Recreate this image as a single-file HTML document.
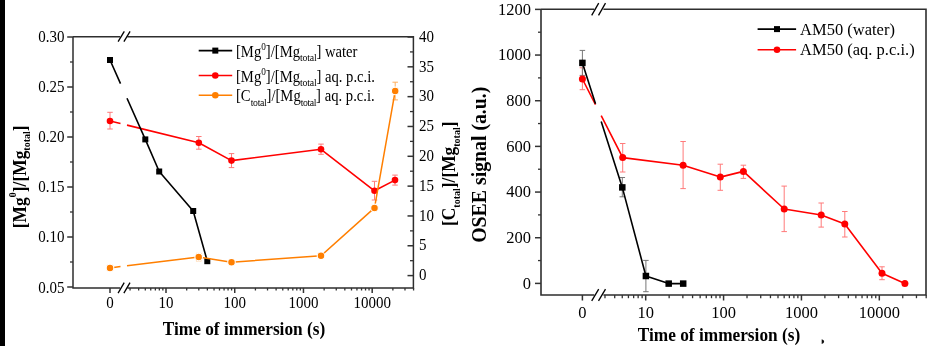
<!DOCTYPE html>
<html><head><meta charset="utf-8"><style>
html,body{margin:0;padding:0;background:#fff;width:928px;height:346px;overflow:hidden}
svg{display:block;will-change:transform}
text{font-family:"Liberation Serif", serif;fill:#000}
.tl{font-size:15px}
.tr{font-size:16.5px}
.xl{font-size:17.3px;font-weight:bold}
.yl{font-size:17.4px;font-weight:bold}
.yl2{font-size:19.8px;font-weight:bold}
.lg{font-size:15px}
.lg2{font-size:16.5px}
</style></head><body>
<svg width="928" height="346" viewBox="0 0 928 346">
<rect x="0" y="0" width="5" height="346" fill="#000"/>
<path d="M73 36.7H120.1M127.4 36.7H413.4V287.9H127.4M120.1 287.9H73V36.7" fill="none" stroke="#2e2e2e" stroke-width="1.5"/>
<line x1="118.1" y1="41.7" x2="124.3" y2="31.3" stroke="#000" stroke-width="1.3"/>
<line x1="123.9" y1="41.7" x2="130.1" y2="31.3" stroke="#000" stroke-width="1.3"/>
<line x1="118.1" y1="293.1" x2="124.19999999999999" y2="282.6" stroke="#000" stroke-width="1.3"/>
<line x1="123.9" y1="293.1" x2="130.0" y2="282.6" stroke="#000" stroke-width="1.3"/>
<line x1="67.2" y1="287.0" x2="73" y2="287.0" stroke="#333333" stroke-width="1.5"/>
<text x="64.5" y="292.60" transform="translate(0,292.60) scale(1,1.06) translate(0,-292.60)" text-anchor="end" class="tl">0.05</text>
<line x1="67.2" y1="237.0" x2="73" y2="237.0" stroke="#333333" stroke-width="1.5"/>
<text x="64.5" y="242.42" transform="translate(0,242.42) scale(1,1.06) translate(0,-242.42)" text-anchor="end" class="tl">0.10</text>
<line x1="67.2" y1="187.0" x2="73" y2="187.0" stroke="#333333" stroke-width="1.5"/>
<text x="64.5" y="192.24" transform="translate(0,192.24) scale(1,1.06) translate(0,-192.24)" text-anchor="end" class="tl">0.15</text>
<line x1="67.2" y1="136.99999999999997" x2="73" y2="136.99999999999997" stroke="#333333" stroke-width="1.5"/>
<text x="64.5" y="142.06" transform="translate(0,142.06) scale(1,1.06) translate(0,-142.06)" text-anchor="end" class="tl">0.20</text>
<line x1="67.2" y1="87.0" x2="73" y2="87.0" stroke="#333333" stroke-width="1.5"/>
<text x="64.5" y="91.88" transform="translate(0,91.88) scale(1,1.06) translate(0,-91.88)" text-anchor="end" class="tl">0.25</text>
<line x1="67.2" y1="37.0" x2="73" y2="37.0" stroke="#333333" stroke-width="1.5"/>
<text x="64.5" y="41.70" transform="translate(0,41.70) scale(1,1.06) translate(0,-41.70)" text-anchor="end" class="tl">0.30</text>
<line x1="70" y1="262.0" x2="73" y2="262.0" stroke="#333333" stroke-width="1.3"/>
<line x1="70" y1="212.0" x2="73" y2="212.0" stroke="#333333" stroke-width="1.3"/>
<line x1="70" y1="162.0" x2="73" y2="162.0" stroke="#333333" stroke-width="1.3"/>
<line x1="70" y1="111.99999999999994" x2="73" y2="111.99999999999994" stroke="#333333" stroke-width="1.3"/>
<line x1="70" y1="61.99999999999997" x2="73" y2="61.99999999999997" stroke="#333333" stroke-width="1.3"/>
<line x1="407.5" y1="275.6" x2="413.4" y2="275.6" stroke="#333333" stroke-width="1.5"/>
<text x="419" y="280.3" transform="translate(0,280.3) scale(1,1.06) translate(0,-280.3)" class="tl">0</text>
<line x1="407.5" y1="245.77500000000003" x2="413.4" y2="245.77500000000003" stroke="#333333" stroke-width="1.5"/>
<text x="419" y="250.47500000000002" transform="translate(0,250.47500000000002) scale(1,1.06) translate(0,-250.47500000000002)" class="tl">5</text>
<line x1="407.5" y1="215.95000000000002" x2="413.4" y2="215.95000000000002" stroke="#333333" stroke-width="1.5"/>
<text x="419" y="220.65" transform="translate(0,220.65) scale(1,1.06) translate(0,-220.65)" class="tl">10</text>
<line x1="407.5" y1="186.12500000000003" x2="413.4" y2="186.12500000000003" stroke="#333333" stroke-width="1.5"/>
<text x="419" y="190.82500000000002" transform="translate(0,190.82500000000002) scale(1,1.06) translate(0,-190.82500000000002)" class="tl">15</text>
<line x1="407.5" y1="156.3" x2="413.4" y2="156.3" stroke="#333333" stroke-width="1.5"/>
<text x="419" y="161.0" transform="translate(0,161.0) scale(1,1.06) translate(0,-161.0)" class="tl">20</text>
<line x1="407.5" y1="126.47500000000002" x2="413.4" y2="126.47500000000002" stroke="#333333" stroke-width="1.5"/>
<text x="419" y="131.175" transform="translate(0,131.175) scale(1,1.06) translate(0,-131.175)" class="tl">25</text>
<line x1="407.5" y1="96.65000000000003" x2="413.4" y2="96.65000000000003" stroke="#333333" stroke-width="1.5"/>
<text x="419" y="101.35000000000004" transform="translate(0,101.35000000000004) scale(1,1.06) translate(0,-101.35000000000004)" class="tl">30</text>
<line x1="407.5" y1="66.82500000000002" x2="413.4" y2="66.82500000000002" stroke="#333333" stroke-width="1.5"/>
<text x="419" y="71.52500000000002" transform="translate(0,71.52500000000002) scale(1,1.06) translate(0,-71.52500000000002)" class="tl">35</text>
<line x1="407.5" y1="37.00000000000003" x2="413.4" y2="37.00000000000003" stroke="#333333" stroke-width="1.5"/>
<text x="419" y="41.70000000000003" transform="translate(0,41.70000000000003) scale(1,1.06) translate(0,-41.70000000000003)" class="tl">40</text>
<line x1="410" y1="260.6875" x2="413.4" y2="260.6875" stroke="#333333" stroke-width="1.3"/>
<line x1="410" y1="230.8625" x2="413.4" y2="230.8625" stroke="#333333" stroke-width="1.3"/>
<line x1="410" y1="201.03750000000002" x2="413.4" y2="201.03750000000002" stroke="#333333" stroke-width="1.3"/>
<line x1="410" y1="171.21250000000003" x2="413.4" y2="171.21250000000003" stroke="#333333" stroke-width="1.3"/>
<line x1="410" y1="141.38750000000002" x2="413.4" y2="141.38750000000002" stroke="#333333" stroke-width="1.3"/>
<line x1="410" y1="111.56250000000003" x2="413.4" y2="111.56250000000003" stroke="#333333" stroke-width="1.3"/>
<line x1="410" y1="81.73750000000004" x2="413.4" y2="81.73750000000004" stroke="#333333" stroke-width="1.3"/>
<line x1="410" y1="51.91250000000002" x2="413.4" y2="51.91250000000002" stroke="#333333" stroke-width="1.3"/>
<line x1="110" y1="287.9" x2="110" y2="293" stroke="#333333" stroke-width="1.5"/>
<text x="110" y="308" transform="translate(0,308) scale(1,1.06) translate(0,-308)" text-anchor="middle" class="tl">0</text>
<line x1="166.0" y1="287.9" x2="166.0" y2="293" stroke="#333333" stroke-width="1.5"/>
<text x="166.0" y="308" transform="translate(0,308) scale(1,1.06) translate(0,-308)" text-anchor="middle" class="tl">10</text>
<line x1="234.73000000000002" y1="287.9" x2="234.73000000000002" y2="293" stroke="#333333" stroke-width="1.5"/>
<text x="234.73000000000002" y="308" transform="translate(0,308) scale(1,1.06) translate(0,-308)" text-anchor="middle" class="tl">100</text>
<line x1="303.46000000000004" y1="287.9" x2="303.46000000000004" y2="293" stroke="#333333" stroke-width="1.5"/>
<text x="303.46000000000004" y="308" transform="translate(0,308) scale(1,1.06) translate(0,-308)" text-anchor="middle" class="tl">1000</text>
<line x1="372.19" y1="287.9" x2="372.19" y2="293" stroke="#333333" stroke-width="1.5"/>
<text x="372.19" y="308" transform="translate(0,308) scale(1,1.06) translate(0,-308)" text-anchor="middle" class="tl">10000</text>
<line x1="130.06254383688238" y1="287.9" x2="130.06254383688238" y2="290.5" stroke="#333333" stroke-width="1.3"/>
<line x1="138.64958320397085" y1="287.9" x2="138.64958320397085" y2="290.5" stroke="#333333" stroke-width="1.3"/>
<line x1="145.31020839801457" y1="287.9" x2="145.31020839801457" y2="290.5" stroke="#333333" stroke-width="1.3"/>
<line x1="150.75233543886782" y1="287.9" x2="150.75233543886782" y2="290.5" stroke="#333333" stroke-width="1.3"/>
<line x1="155.35358829017986" y1="287.9" x2="155.35358829017986" y2="290.5" stroke="#333333" stroke-width="1.3"/>
<line x1="159.33937480595628" y1="287.9" x2="159.33937480595628" y2="290.5" stroke="#333333" stroke-width="1.3"/>
<line x1="162.85508767376479" y1="287.9" x2="162.85508767376479" y2="290.5" stroke="#333333" stroke-width="1.3"/>
<line x1="186.68979160198543" y1="287.9" x2="186.68979160198543" y2="290.5" stroke="#333333" stroke-width="1.3"/>
<line x1="198.7925438368824" y1="287.9" x2="198.7925438368824" y2="290.5" stroke="#333333" stroke-width="1.3"/>
<line x1="207.37958320397087" y1="287.9" x2="207.37958320397087" y2="290.5" stroke="#333333" stroke-width="1.3"/>
<line x1="214.04020839801458" y1="287.9" x2="214.04020839801458" y2="290.5" stroke="#333333" stroke-width="1.3"/>
<line x1="219.48233543886784" y1="287.9" x2="219.48233543886784" y2="290.5" stroke="#333333" stroke-width="1.3"/>
<line x1="224.08358829017988" y1="287.9" x2="224.08358829017988" y2="290.5" stroke="#333333" stroke-width="1.3"/>
<line x1="228.06937480595627" y1="287.9" x2="228.06937480595627" y2="290.5" stroke="#333333" stroke-width="1.3"/>
<line x1="231.5850876737648" y1="287.9" x2="231.5850876737648" y2="290.5" stroke="#333333" stroke-width="1.3"/>
<line x1="255.41979160198542" y1="287.9" x2="255.41979160198542" y2="290.5" stroke="#333333" stroke-width="1.3"/>
<line x1="267.5225438368824" y1="287.9" x2="267.5225438368824" y2="290.5" stroke="#333333" stroke-width="1.3"/>
<line x1="276.1095832039709" y1="287.9" x2="276.1095832039709" y2="290.5" stroke="#333333" stroke-width="1.3"/>
<line x1="282.7702083980146" y1="287.9" x2="282.7702083980146" y2="290.5" stroke="#333333" stroke-width="1.3"/>
<line x1="288.21233543886785" y1="287.9" x2="288.21233543886785" y2="290.5" stroke="#333333" stroke-width="1.3"/>
<line x1="292.8135882901799" y1="287.9" x2="292.8135882901799" y2="290.5" stroke="#333333" stroke-width="1.3"/>
<line x1="296.7993748059563" y1="287.9" x2="296.7993748059563" y2="290.5" stroke="#333333" stroke-width="1.3"/>
<line x1="300.31508767376476" y1="287.9" x2="300.31508767376476" y2="290.5" stroke="#333333" stroke-width="1.3"/>
<line x1="324.14979160198544" y1="287.9" x2="324.14979160198544" y2="290.5" stroke="#333333" stroke-width="1.3"/>
<line x1="336.2525438368824" y1="287.9" x2="336.2525438368824" y2="290.5" stroke="#333333" stroke-width="1.3"/>
<line x1="344.83958320397085" y1="287.9" x2="344.83958320397085" y2="290.5" stroke="#333333" stroke-width="1.3"/>
<line x1="351.5002083980146" y1="287.9" x2="351.5002083980146" y2="290.5" stroke="#333333" stroke-width="1.3"/>
<line x1="356.9423354388678" y1="287.9" x2="356.9423354388678" y2="290.5" stroke="#333333" stroke-width="1.3"/>
<line x1="361.54358829017985" y1="287.9" x2="361.54358829017985" y2="290.5" stroke="#333333" stroke-width="1.3"/>
<line x1="365.5293748059563" y1="287.9" x2="365.5293748059563" y2="290.5" stroke="#333333" stroke-width="1.3"/>
<line x1="369.0450876737648" y1="287.9" x2="369.0450876737648" y2="290.5" stroke="#333333" stroke-width="1.3"/>
<line x1="392.8797916019854" y1="287.9" x2="392.8797916019854" y2="290.5" stroke="#333333" stroke-width="1.3"/>
<line x1="404.9825438368824" y1="287.9" x2="404.9825438368824" y2="290.5" stroke="#333333" stroke-width="1.3"/>
<line x1="413.56958320397086" y1="287.9" x2="413.56958320397086" y2="290.5" stroke="#333333" stroke-width="1.3"/>
<text x="162.8" y="335.2" transform="translate(0,335.2) scale(1,1.06) translate(0,-335.2)" class="xl">Time of immersion (s)</text>
<text transform="translate(26.0,228.3) rotate(-90) scale(1,1.06)" class="yl">[Mg<tspan dy="-9" font-size="10.5">0</tspan><tspan dy="9">]/[Mg</tspan><tspan dy="4" font-size="10">total</tspan><tspan dy="-4">]</tspan></text>
<text transform="translate(455.3,226) rotate(-90) scale(1,1.06)" class="yl">[C<tspan dy="4" font-size="10">total</tspan><tspan dy="-4">]/[Mg</tspan><tspan dy="4" font-size="10">total</tspan><tspan dy="-4">]</tspan></text>
<line x1="198.7" y1="50.6" x2="232.2" y2="50.6" stroke="#000" stroke-width="1.6"/><rect x="212.3" y="47.6" width="6" height="6" fill="#000"/>
<line x1="198.7" y1="75.5" x2="232.2" y2="75.5" stroke="#ff0000" stroke-width="1.6"/><circle cx="215.3" cy="75.5" r="3.3" fill="#ff0000"/>
<line x1="198.7" y1="95.3" x2="232.2" y2="95.3" stroke="#ff7f00" stroke-width="1.6"/><circle cx="215.3" cy="95.3" r="3.3" fill="#ff7f00"/>
<g transform="translate(236,0) scale(0.977,1) translate(-236,0)">
<text x="236" y="56.8" transform="translate(0,56.8) scale(1,1.06) translate(0,-56.8)" class="lg">[Mg<tspan dy="-6" font-size="9.5">0</tspan><tspan dy="6">]/[Mg</tspan><tspan dy="4" font-size="10" letter-spacing="-0.2">total</tspan><tspan dy="-4">] water</tspan></text>
<text x="236" y="81.6" transform="translate(0,81.6) scale(1,1.06) translate(0,-81.6)" class="lg">[Mg<tspan dy="-6" font-size="9.5">0</tspan><tspan dy="6">]/[Mg</tspan><tspan dy="4" font-size="10" letter-spacing="-0.2">total</tspan><tspan dy="-4">] aq. p.c.i.</tspan></text>
<text x="236" y="101.5" transform="translate(0,101.5) scale(1,1.06) translate(0,-101.5)" class="lg">[C<tspan dy="4" font-size="10" letter-spacing="-0.3">total</tspan><tspan dy="-4">]/[Mg</tspan><tspan dy="4" font-size="10" letter-spacing="-0.4">total</tspan><tspan dy="-4">] aq. p.c.i.</tspan></text>
</g>
<path d="M110 112.3V129M107.25 112.3H112.75M107.25 129H112.75" stroke="#ff7a7a" stroke-width="1" fill="none"/>
<path d="M198.8 136.5V149.2M196.05 136.5H201.55M196.05 149.2H201.55" stroke="#ff7a7a" stroke-width="1" fill="none"/>
<path d="M231.5 153.6V167.6M228.75 153.6H234.25M228.75 167.6H234.25" stroke="#ff7a7a" stroke-width="1" fill="none"/>
<path d="M321 144.1V154.3M318.25 144.1H323.75M318.25 154.3H323.75" stroke="#ff7a7a" stroke-width="1" fill="none"/>
<path d="M374.5 181.3V200M371.75 181.3H377.25M371.75 200H377.25" stroke="#ff7a7a" stroke-width="1" fill="none"/>
<path d="M395 175.1V185.1M392.25 175.1H397.75M392.25 185.1H397.75" stroke="#ff7a7a" stroke-width="1" fill="none"/>
<path d="M110 121L120.5 123.57M127 125.15L198.8 142.7L231.5 160.6L321 149.3L374.5 190.8L395 180.1" fill="none" stroke="#ff0000" stroke-width="1.6" stroke-linejoin="round"/>
<circle cx="110" cy="121" r="3.3" fill="#ff0000"/>
<circle cx="198.8" cy="142.7" r="3.3" fill="#ff0000"/>
<circle cx="231.5" cy="160.6" r="3.3" fill="#ff0000"/>
<circle cx="321" cy="149.3" r="3.3" fill="#ff0000"/>
<circle cx="374.5" cy="190.8" r="3.3" fill="#ff0000"/>
<circle cx="395" cy="180.1" r="3.3" fill="#ff0000"/>
<path d="M110 60L120.5 83.62M127 98.24L145.3 139.4L159.2 171.5L193.2 211L207.3 261.2" fill="none" stroke="#000" stroke-width="1.6" stroke-linejoin="round"/>
<rect x="107.0" y="57.0" width="6" height="6" fill="#000"/>
<rect x="142.3" y="136.4" width="6" height="6" fill="#000"/>
<rect x="156.2" y="168.5" width="6" height="6" fill="#000"/>
<rect x="190.2" y="208.0" width="6" height="6" fill="#000"/>
<rect x="204.3" y="258.2" width="6" height="6" fill="#000"/>
<path d="M395.2 82.2V99.9M392.45 82.2H397.95M392.45 99.9H397.95" stroke="#ffae5c" stroke-width="1" fill="none"/>
<path d="M198.7 253.4V260.8M195.95 253.4H201.45M195.95 260.8H201.45" stroke="#ffae5c" stroke-width="1" fill="none"/>
<path d="M110 267.9L120.5 266.60M127 265.79L198.7 256.9L231.5 262.2L321 255.8L374.5 207.9L395.2 90.9" fill="none" stroke="#ff7f00" stroke-width="1.5" stroke-linejoin="round"/>
<circle cx="110" cy="267.9" r="3.8" fill="#ff7f00" stroke="#fff" stroke-width="1.1"/>
<circle cx="198.7" cy="256.9" r="3.8" fill="#ff7f00" stroke="#fff" stroke-width="1.1"/>
<circle cx="231.5" cy="262.2" r="3.8" fill="#ff7f00" stroke="#fff" stroke-width="1.1"/>
<circle cx="321" cy="255.8" r="3.8" fill="#ff7f00" stroke="#fff" stroke-width="1.1"/>
<circle cx="374.5" cy="207.9" r="3.8" fill="#ff7f00" stroke="#fff" stroke-width="1.1"/>
<circle cx="395.2" cy="90.9" r="3.8" fill="#ff7f00" stroke="#fff" stroke-width="1.1"/>
<path d="M541 9.2H594.3M603.4 9.2H926V295H603.4M594.3 295H541V9.2" fill="none" stroke="#2e2e2e" stroke-width="1.6"/>
<line x1="591.7" y1="15.3" x2="598.7" y2="3.2" stroke="#000" stroke-width="1.3"/>
<line x1="591.7" y1="300.9" x2="598.7" y2="289.1" stroke="#000" stroke-width="1.3"/>
<line x1="598.5" y1="15.3" x2="605.5" y2="3.2" stroke="#000" stroke-width="1.3"/>
<line x1="598.5" y1="300.9" x2="605.5" y2="289.1" stroke="#000" stroke-width="1.3"/>
<line x1="535" y1="283.4" x2="541" y2="283.4" stroke="#333333" stroke-width="1.5"/>
<text x="531" y="288.79999999999995" transform="translate(0,288.79999999999995) scale(1,1.06) translate(0,-288.79999999999995)" text-anchor="end" class="tr">0</text>
<line x1="535" y1="237.72999999999996" x2="541" y2="237.72999999999996" stroke="#333333" stroke-width="1.5"/>
<text x="531" y="243.12999999999997" transform="translate(0,243.12999999999997) scale(1,1.06) translate(0,-243.12999999999997)" text-anchor="end" class="tr">200</text>
<line x1="535" y1="192.05999999999997" x2="541" y2="192.05999999999997" stroke="#333333" stroke-width="1.5"/>
<text x="531" y="197.45999999999998" transform="translate(0,197.45999999999998) scale(1,1.06) translate(0,-197.45999999999998)" text-anchor="end" class="tr">400</text>
<line x1="535" y1="146.39" x2="541" y2="146.39" stroke="#333333" stroke-width="1.5"/>
<text x="531" y="151.79" transform="translate(0,151.79) scale(1,1.06) translate(0,-151.79)" text-anchor="end" class="tr">600</text>
<line x1="535" y1="100.71999999999997" x2="541" y2="100.71999999999997" stroke="#333333" stroke-width="1.5"/>
<text x="531" y="106.11999999999998" transform="translate(0,106.11999999999998) scale(1,1.06) translate(0,-106.11999999999998)" text-anchor="end" class="tr">800</text>
<line x1="535" y1="55.04999999999998" x2="541" y2="55.04999999999998" stroke="#333333" stroke-width="1.5"/>
<text x="531" y="60.44999999999998" transform="translate(0,60.44999999999998) scale(1,1.06) translate(0,-60.44999999999998)" text-anchor="end" class="tr">1000</text>
<line x1="535" y1="9.379999999999995" x2="541" y2="9.379999999999995" stroke="#333333" stroke-width="1.5"/>
<text x="531" y="14.779999999999996" transform="translate(0,14.779999999999996) scale(1,1.06) translate(0,-14.779999999999996)" text-anchor="end" class="tr">1200</text>
<line x1="538" y1="260.565" x2="541" y2="260.565" stroke="#333333" stroke-width="1.3"/>
<line x1="538" y1="214.89499999999998" x2="541" y2="214.89499999999998" stroke="#333333" stroke-width="1.3"/>
<line x1="538" y1="169.22499999999997" x2="541" y2="169.22499999999997" stroke="#333333" stroke-width="1.3"/>
<line x1="538" y1="123.55499999999998" x2="541" y2="123.55499999999998" stroke="#333333" stroke-width="1.3"/>
<line x1="538" y1="77.88499999999999" x2="541" y2="77.88499999999999" stroke="#333333" stroke-width="1.3"/>
<line x1="538" y1="32.214999999999975" x2="541" y2="32.214999999999975" stroke="#333333" stroke-width="1.3"/>
<line x1="582.4" y1="295" x2="582.4" y2="300.5" stroke="#333333" stroke-width="1.5"/>
<text x="582.4" y="318" transform="translate(0,318) scale(1,1.06) translate(0,-318)" text-anchor="middle" class="tr">0</text>
<line x1="645.7" y1="295" x2="645.7" y2="300.5" stroke="#333333" stroke-width="1.5"/>
<text x="645.7" y="318" transform="translate(0,318) scale(1,1.06) translate(0,-318)" text-anchor="middle" class="tr">10</text>
<line x1="723.57" y1="295" x2="723.57" y2="300.5" stroke="#333333" stroke-width="1.5"/>
<text x="723.57" y="318" transform="translate(0,318) scale(1,1.06) translate(0,-318)" text-anchor="middle" class="tr">100</text>
<line x1="801.44" y1="295" x2="801.44" y2="300.5" stroke="#333333" stroke-width="1.5"/>
<text x="801.44" y="318" transform="translate(0,318) scale(1,1.06) translate(0,-318)" text-anchor="middle" class="tr">1000</text>
<line x1="879.3100000000001" y1="295" x2="879.3100000000001" y2="300.5" stroke="#333333" stroke-width="1.5"/>
<text x="879.3100000000001" y="318" transform="translate(0,318) scale(1,1.06) translate(0,-318)" text-anchor="middle" class="tr">10000</text>
<line x1="604.9834321050201" y1="295" x2="604.9834321050201" y2="298.2" stroke="#333333" stroke-width="1.3"/>
<line x1="614.7124115247085" y1="295" x2="614.7124115247085" y2="298.2" stroke="#333333" stroke-width="1.3"/>
<line x1="622.2587942376458" y1="295" x2="622.2587942376458" y2="298.2" stroke="#333333" stroke-width="1.3"/>
<line x1="628.4246378673744" y1="295" x2="628.4246378673744" y2="298.2" stroke="#333333" stroke-width="1.3"/>
<line x1="633.6377843759102" y1="295" x2="633.6377843759102" y2="298.2" stroke="#333333" stroke-width="1.3"/>
<line x1="638.1536172870627" y1="295" x2="638.1536172870627" y2="298.2" stroke="#333333" stroke-width="1.3"/>
<line x1="642.1368642100402" y1="295" x2="642.1368642100402" y2="298.2" stroke="#333333" stroke-width="1.3"/>
<line x1="669.1412057623543" y1="295" x2="669.1412057623543" y2="298.2" stroke="#333333" stroke-width="1.3"/>
<line x1="682.8534321050201" y1="295" x2="682.8534321050201" y2="298.2" stroke="#333333" stroke-width="1.3"/>
<line x1="692.5824115247085" y1="295" x2="692.5824115247085" y2="298.2" stroke="#333333" stroke-width="1.3"/>
<line x1="700.1287942376458" y1="295" x2="700.1287942376458" y2="298.2" stroke="#333333" stroke-width="1.3"/>
<line x1="706.2946378673744" y1="295" x2="706.2946378673744" y2="298.2" stroke="#333333" stroke-width="1.3"/>
<line x1="711.5077843759102" y1="295" x2="711.5077843759102" y2="298.2" stroke="#333333" stroke-width="1.3"/>
<line x1="716.0236172870627" y1="295" x2="716.0236172870627" y2="298.2" stroke="#333333" stroke-width="1.3"/>
<line x1="720.0068642100402" y1="295" x2="720.0068642100402" y2="298.2" stroke="#333333" stroke-width="1.3"/>
<line x1="747.0112057623543" y1="295" x2="747.0112057623543" y2="298.2" stroke="#333333" stroke-width="1.3"/>
<line x1="760.7234321050202" y1="295" x2="760.7234321050202" y2="298.2" stroke="#333333" stroke-width="1.3"/>
<line x1="770.4524115247085" y1="295" x2="770.4524115247085" y2="298.2" stroke="#333333" stroke-width="1.3"/>
<line x1="777.9987942376458" y1="295" x2="777.9987942376458" y2="298.2" stroke="#333333" stroke-width="1.3"/>
<line x1="784.1646378673744" y1="295" x2="784.1646378673744" y2="298.2" stroke="#333333" stroke-width="1.3"/>
<line x1="789.3777843759102" y1="295" x2="789.3777843759102" y2="298.2" stroke="#333333" stroke-width="1.3"/>
<line x1="793.8936172870627" y1="295" x2="793.8936172870627" y2="298.2" stroke="#333333" stroke-width="1.3"/>
<line x1="797.8768642100403" y1="295" x2="797.8768642100403" y2="298.2" stroke="#333333" stroke-width="1.3"/>
<line x1="824.8812057623543" y1="295" x2="824.8812057623543" y2="298.2" stroke="#333333" stroke-width="1.3"/>
<line x1="838.5934321050202" y1="295" x2="838.5934321050202" y2="298.2" stroke="#333333" stroke-width="1.3"/>
<line x1="848.3224115247085" y1="295" x2="848.3224115247085" y2="298.2" stroke="#333333" stroke-width="1.3"/>
<line x1="855.8687942376458" y1="295" x2="855.8687942376458" y2="298.2" stroke="#333333" stroke-width="1.3"/>
<line x1="862.0346378673744" y1="295" x2="862.0346378673744" y2="298.2" stroke="#333333" stroke-width="1.3"/>
<line x1="867.2477843759102" y1="295" x2="867.2477843759102" y2="298.2" stroke="#333333" stroke-width="1.3"/>
<line x1="871.7636172870627" y1="295" x2="871.7636172870627" y2="298.2" stroke="#333333" stroke-width="1.3"/>
<line x1="875.7468642100403" y1="295" x2="875.7468642100403" y2="298.2" stroke="#333333" stroke-width="1.3"/>
<line x1="902.7512057623543" y1="295" x2="902.7512057623543" y2="298.2" stroke="#333333" stroke-width="1.3"/>
<line x1="916.4634321050202" y1="295" x2="916.4634321050202" y2="298.2" stroke="#333333" stroke-width="1.3"/>
<line x1="926.1924115247085" y1="295" x2="926.1924115247085" y2="298.2" stroke="#333333" stroke-width="1.3"/>
<text x="637.8" y="341.5" transform="translate(0,341.5) scale(1,1.06) translate(0,-341.5)" class="xl">Time of immersion (s)</text>
<text transform="translate(485.6,242.8) rotate(-90) scale(1,1.06)" class="yl2">OSEE signal (a.u.)</text>
<path d="M821.7 339.3C824.9 340.1 824.9 343.1 821.7 343.9Z" fill="#111"/>
<line x1="757.6" y1="29.1" x2="796.1" y2="29.1" stroke="#000" stroke-width="1.6"/><rect x="774.0" y="26.1" width="6" height="6" fill="#000"/>
<line x1="757.6" y1="49.7" x2="796.1" y2="49.7" stroke="#ff0000" stroke-width="1.6"/><circle cx="777" cy="49.7" r="3.3" fill="#ff0000"/>
<text x="800.1" y="34.8" transform="translate(0,34.8) scale(1,1.06) translate(0,-34.8)" class="lg2">AM50 (water)</text>
<text x="800.1" y="55.4" transform="translate(0,55.4) scale(1,1.06) translate(0,-55.4)" class="lg2">AM50 (aq. p.c.i.)</text>
<path d="M582.4 67.8V89.7M579.65 67.8H585.15M579.65 89.7H585.15" stroke="#ff7a7a" stroke-width="1" fill="none"/>
<path d="M622.7 143.5V172M619.95 143.5H625.45M619.95 172H625.45" stroke="#ff7a7a" stroke-width="1" fill="none"/>
<path d="M683.1 141.5V188.6M680.35 141.5H685.85M680.35 188.6H685.85" stroke="#ff7a7a" stroke-width="1" fill="none"/>
<path d="M720.3 164.2V190.3M717.55 164.2H723.05M717.55 190.3H723.05" stroke="#ff7a7a" stroke-width="1" fill="none"/>
<path d="M743.4 165.2V178.4M740.65 165.2H746.15M740.65 178.4H746.15" stroke="#ff7a7a" stroke-width="1" fill="none"/>
<path d="M784.2 186.1V231.6M781.45 186.1H786.95M781.45 231.6H786.95" stroke="#ff7a7a" stroke-width="1" fill="none"/>
<path d="M821.2 203V227.1M818.45 203H823.95M818.45 227.1H823.95" stroke="#ff7a7a" stroke-width="1" fill="none"/>
<path d="M844.8 211.5V237M842.05 211.5H847.55M842.05 237H847.55" stroke="#ff7a7a" stroke-width="1" fill="none"/>
<path d="M882 266.8V279.7M879.25 266.8H884.75M879.25 279.7H884.75" stroke="#ff7a7a" stroke-width="1" fill="none"/>
<path d="M582.4 50.4V75.4M579.65 50.4H585.15M579.65 75.4H585.15" stroke="#777" stroke-width="1" fill="none"/>
<path d="M622.3 177.5V196.8M619.55 177.5H625.05M619.55 196.8H625.05" stroke="#777" stroke-width="1" fill="none"/>
<path d="M645.9 260.4V291.7M643.15 260.4H648.65M643.15 291.7H648.65" stroke="#777" stroke-width="1" fill="none"/>
<path d="M582.4 79L595.5 104.55M601.2 115.67L622.7 157.6L683.1 165.3L720.3 177.1L743.4 171.4L784.2 209L821.2 215L844.8 223.9L882 273.3L904.9 283.4" fill="none" stroke="#ff0000" stroke-width="1.6" stroke-linejoin="round"/>
<path d="M582.4 62.9L595.5 103.78M601.2 121.56L622.3 187.4L645.9 276L668.7 283.6L683.2 283.6" fill="none" stroke="#000" stroke-width="1.6" stroke-linejoin="round"/>
<circle cx="582.4" cy="79" r="3.5" fill="#ff0000"/>
<circle cx="622.7" cy="157.6" r="3.5" fill="#ff0000"/>
<circle cx="683.1" cy="165.3" r="3.5" fill="#ff0000"/>
<circle cx="720.3" cy="177.1" r="3.5" fill="#ff0000"/>
<circle cx="743.4" cy="171.4" r="3.5" fill="#ff0000"/>
<circle cx="784.2" cy="209" r="3.5" fill="#ff0000"/>
<circle cx="821.2" cy="215" r="3.5" fill="#ff0000"/>
<circle cx="844.8" cy="223.9" r="3.5" fill="#ff0000"/>
<circle cx="882" cy="273.3" r="3.5" fill="#ff0000"/>
<circle cx="904.9" cy="283.4" r="3.5" fill="#ff0000"/>
<rect x="579.15" y="59.65" width="6.5" height="6.5" fill="#000"/>
<rect x="619.05" y="184.15" width="6.5" height="6.5" fill="#000"/>
<rect x="642.65" y="272.75" width="6.5" height="6.5" fill="#000"/>
<rect x="665.45" y="280.35" width="6.5" height="6.5" fill="#000"/>
<rect x="679.95" y="280.35" width="6.5" height="6.5" fill="#000"/>
</svg></body></html>
